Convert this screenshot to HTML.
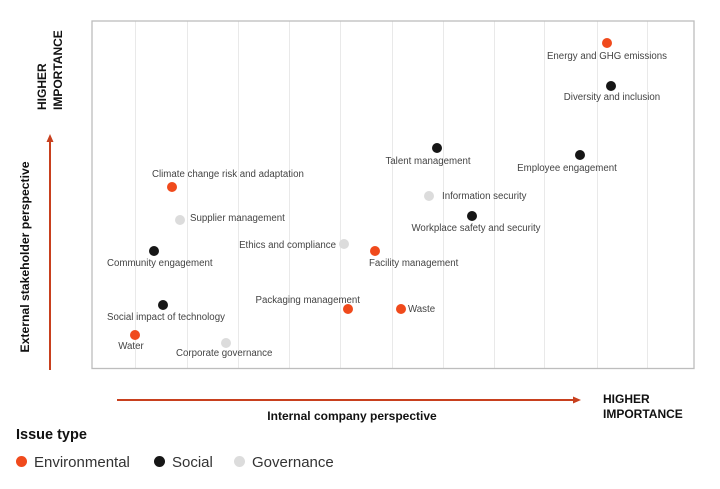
<!DOCTYPE html>
<html>
<head>
<meta charset="utf-8">
<style>
  html, body { margin: 0; padding: 0; background: #fff; }
  svg { display: block; }
  .lbl { font-family: "Liberation Sans", sans-serif; font-size: 9.7px; fill: #444; }
  .b { font-family: "Liberation Sans", sans-serif; font-weight: bold; fill: #111; }
  .leg { font-family: "Liberation Sans", sans-serif; font-size: 15px; fill: #333; }
</style>
</head>
<body>
<svg width="720" height="489" viewBox="0 0 720 489" xmlns="http://www.w3.org/2000/svg">
  <rect width="720" height="489" fill="#fff"/>
  <!-- grid lines -->
  <g stroke="#e9e9e9" stroke-width="1">
    <line x1="135.5" y1="21" x2="135.5" y2="368"/>
    <line x1="187.5" y1="21" x2="187.5" y2="368"/>
    <line x1="238.5" y1="21" x2="238.5" y2="368"/>
    <line x1="289.5" y1="21" x2="289.5" y2="368"/>
    <line x1="340.5" y1="21" x2="340.5" y2="368"/>
    <line x1="392.5" y1="21" x2="392.5" y2="368"/>
    <line x1="443.5" y1="21" x2="443.5" y2="368"/>
    <line x1="494.5" y1="21" x2="494.5" y2="368"/>
    <line x1="544.5" y1="21" x2="544.5" y2="368"/>
    <line x1="597.5" y1="21" x2="597.5" y2="368"/>
    <line x1="647.5" y1="21" x2="647.5" y2="368"/>
  </g>
  <!-- plot box -->
  <rect x="92" y="21" width="602" height="347.5" fill="none" stroke="#bdbdbd" stroke-width="1.3"/>

  <!-- Y arrow -->
  <line x1="50" y1="370" x2="50" y2="141" stroke="#c8401e" stroke-width="2"/>
  <polygon points="50,134 46.5,142 53.5,142" fill="#c8401e"/>
  <!-- X arrow -->
  <line x1="117" y1="400" x2="574" y2="400" stroke="#c8401e" stroke-width="2"/>
  <polygon points="581,400 573,396.5 573,403.5" fill="#c8401e"/>

  <!-- Y axis titles -->
  <text class="b" font-size="12.2" text-anchor="middle" transform="translate(29,257) rotate(-90)">External stakeholder perspective</text>
  <text class="b" font-size="12" text-anchor="start" transform="translate(46,110) rotate(-90)">HIGHER</text>
  <text class="b" font-size="12" text-anchor="start" transform="translate(62,110) rotate(-90)">IMPORTANCE</text>

  <!-- X axis titles -->
  <text class="b" font-size="12" x="352" y="420" text-anchor="middle">Internal company perspective</text>
  <text class="b" font-size="12" x="603" y="403">HIGHER</text>
  <text class="b" font-size="12" x="603" y="418">IMPORTANCE</text>

  <!-- points -->
  <g>
    <circle cx="607" cy="43" r="5" fill="#f04a1c"/>
    <circle cx="611" cy="86" r="5" fill="#161616"/>
    <circle cx="437" cy="148" r="5" fill="#161616"/>
    <circle cx="580" cy="155" r="5" fill="#161616"/>
    <circle cx="429" cy="196" r="5" fill="#dcdcdc"/>
    <circle cx="472" cy="216" r="5" fill="#161616"/>
    <circle cx="172" cy="187" r="5" fill="#f04a1c"/>
    <circle cx="180" cy="220" r="5" fill="#dcdcdc"/>
    <circle cx="344" cy="244" r="5" fill="#dcdcdc"/>
    <circle cx="154" cy="251" r="5" fill="#161616"/>
    <circle cx="375" cy="251" r="5" fill="#f04a1c"/>
    <circle cx="348" cy="309" r="5" fill="#f04a1c"/>
    <circle cx="401" cy="309" r="5" fill="#f04a1c"/>
    <circle cx="163" cy="305" r="5" fill="#161616"/>
    <circle cx="135" cy="335" r="5" fill="#f04a1c"/>
    <circle cx="226" cy="343" r="5" fill="#dcdcdc"/>
  </g>

  <!-- labels -->
  <text class="lbl" x="607" y="59" text-anchor="middle">Energy and GHG emissions</text>
  <text class="lbl" x="612" y="100" text-anchor="middle">Diversity and inclusion</text>
  <text class="lbl" x="428" y="164" text-anchor="middle">Talent management</text>
  <text class="lbl" x="567" y="171" text-anchor="middle">Employee engagement</text>
  <text class="lbl" x="442" y="199">Information security</text>
  <text class="lbl" x="476" y="231" text-anchor="middle">Workplace safety and security</text>
  <text class="lbl" x="152" y="177">Climate change risk and adaptation</text>
  <text class="lbl" x="190" y="221">Supplier management</text>
  <text class="lbl" x="336" y="248" text-anchor="end">Ethics and compliance</text>
  <text class="lbl" x="107" y="266">Community engagement</text>
  <text class="lbl" x="369" y="266">Facility management</text>
  <text class="lbl" x="360" y="303" text-anchor="end">Packaging management</text>
  <text class="lbl" x="408" y="312">Waste</text>
  <text class="lbl" x="107" y="320">Social impact of technology</text>
  <text class="lbl" x="131" y="349" text-anchor="middle">Water</text>
  <text class="lbl" x="176" y="356">Corporate governance</text>

  <!-- legend -->
  <text class="b" font-size="14.5" x="16" y="439">Issue type</text>
  <circle cx="21.5" cy="461.5" r="5.5" fill="#f04a1c"/>
  <text class="leg" x="34" y="467">Environmental</text>
  <circle cx="159.5" cy="461.5" r="5.5" fill="#161616"/>
  <text class="leg" x="172" y="467">Social</text>
  <circle cx="239.5" cy="461.5" r="5.5" fill="#dcdcdc"/>
  <text class="leg" x="252" y="467">Governance</text>
</svg>
</body>
</html>
